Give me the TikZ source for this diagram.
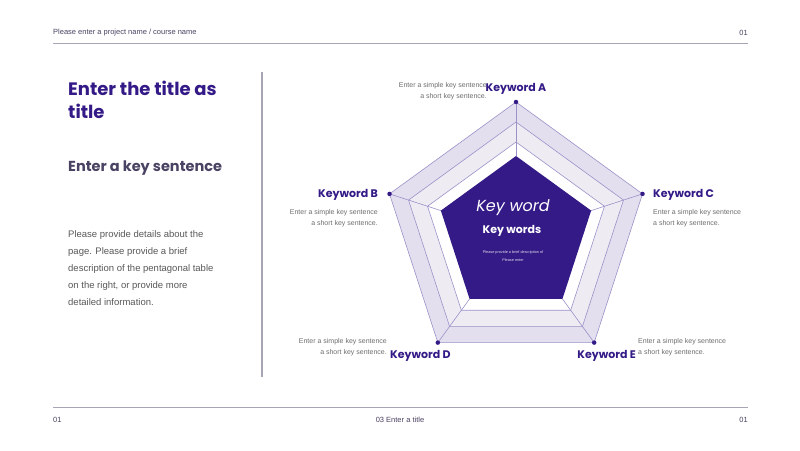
\documentclass[tikz,border=0pt]{standalone}
\usepackage{fontspec}
\setmainfont{Liberation Sans}
\newfontfamily\ttl{Poppins}
\usetikzlibrary{calc}
\definecolor{pur}{HTML}{341A87}
\definecolor{band1}{HTML}{E3DFEF}
\definecolor{band2}{HTML}{EEEBF3}
\definecolor{edge}{HTML}{9C92C8}
\definecolor{gr}{HTML}{6E6E6E}
\definecolor{ln}{HTML}{A7A4B4}
\definecolor{sub}{HTML}{4A4262}
\tikzset{
  small/.style={font=\fontsize{7}{11.5}\selectfont, text=gr, align=right, inner sep=0pt},
  smallL/.style={small, align=left},
  kw/.style={font=\ttl\bfseries\fontsize{11}{12}\selectfont, text=pur, inner sep=0pt},
  foot/.style={font=\fontsize{7.5}{8}\selectfont, text=sub, inner sep=0pt},
  dot/.style={circle, fill=pur, inner sep=0pt, minimum size=4.5pt},
  ring/.style={draw=edge, line width=0.6pt}
}
\begin{document}
\begin{tikzpicture}[x=1pt,y=-1pt]
\useasboundingbox (0,0) rectangle (800,450);
\fill[white] (0,0) rectangle (800,450);
% header / footer
\coordinate (h1) at (53,43); \coordinate (h2) at (748,43);
\coordinate (f1) at (53,407); \coordinate (f2) at (748,407);
\coordinate (v1) at (262,72); \coordinate (v2) at (262,377);
\draw[ln, line width=1pt] (h1) -- (h2);
\draw[ln, line width=1pt] (f1) -- (f2);
\draw[ln, line width=1.2pt] (v1) -- (v2);
\node[foot, anchor=west] (hdr) at (53,33) {Please enter a project name / course name};
\node[foot, anchor=east] (hn) at (748,33) {01};
\node[foot, anchor=west] (fl) at (53,420) {01};
\node[foot] (fc) at (400,420) {03 Enter a title};
\node[foot, anchor=east] (fr) at (748,420) {01};
% left texts
\node[font=\ttl\bfseries\fontsize{18}{23}\selectfont, text=pur, anchor=north west, align=left, inner sep=0pt] (title) at (68,81) {Enter the title as\\title};
\node[font=\ttl\bfseries\fontsize{14.5}{18}\selectfont, text=sub, anchor=west, inner sep=0pt] (ks) at (68,168) {Enter a key sentence};
\node[font=\fontsize{9.5}{17}\selectfont, text=gr!80!black, anchor=north west, align=left, inner sep=0pt] (para) at (68,230) {Please provide details about the\\page. Please provide a brief\\description of the pentagonal table\\on the right, or provide more\\detailed information.};
% pentagon
\coordinate (O) at (516,235);
\foreach \r/\c in {133/band1,113/band2,93/white}{
  \fill[\c] ($(O)+(-90:\r)$) \foreach \a in {162,234,306,18}{ -- ($(O)+(-\a:\r)$)} -- cycle;
}
\foreach \r in {133,113,93}{
  \draw[ring] ($(O)+(-90:\r)$) \foreach \a in {162,234,306,18}{ -- ($(O)+(-\a:\r)$)} -- cycle;
}
\foreach \a in {90,162,234,306,18}{
  \draw[ring] ($(O)+(-\a:133)$) -- ($(O)+(-\a:79)$);
}
\fill[pur] ($(O)+(-90:79)$) \foreach \a in {162,234,306,18}{ -- ($(O)+(-\a:79)$)} -- cycle;
% vertices
\node[dot] (pA) at ($(O)+(-90:133)$) {};
\node[dot] (pB) at ($(O)+(-162:133)$) {};
\node[dot] (pC) at ($(O)+(-18:133)$) {};
\node[dot] (pD) at ($(O)+(-234:133)$) {};
\node[dot] (pE) at ($(O)+(-306:133)$) {};
% center text
\node[font=\ttl\itshape\fontsize{16}{18}\selectfont, text=white, inner sep=0pt] (kw1) at (513,208) {Key word};
\node[font=\ttl\bfseries\fontsize{11}{12}\selectfont, text=white, inner sep=0pt] (kw2) at (512,231) {Key words};
\node[font=\fontsize{3.8}{8}\selectfont, text=white!85!pur, align=center, inner sep=0pt] (kw3) at (513,256) {Please provide a brief description of\\Please enter};
% keywords
\node[kw] (kA) at (516,89) {Keyword A};
\node[small, anchor=east] (tA) at (487,91) {Enter a simple key sentence\\a short key sentence.};
\node[kw, anchor=east] (kB) at (378,195) {Keyword B};
\node[small, anchor=east] (tB) at (378,218) {Enter a simple key sentence\\a short key sentence.};
\node[kw, anchor=west] (kC) at (653,195) {Keyword C};
\node[smallL, anchor=west] (tC) at (653,218) {Enter a simple key sentence\\a short key sentence.};
\node[small, anchor=east] (tD) at (387,347) {Enter a simple key sentence\\a short key sentence.};
\node[kw, anchor=west] (kD) at (390,356) {Keyword D};
\node[kw, anchor=east] (kE) at (636,356) {Keyword E};
\node[smallL, anchor=west] (tE) at (638,347) {Enter a simple key sentence\\a short key sentence.};
\end{tikzpicture}
\end{document}
